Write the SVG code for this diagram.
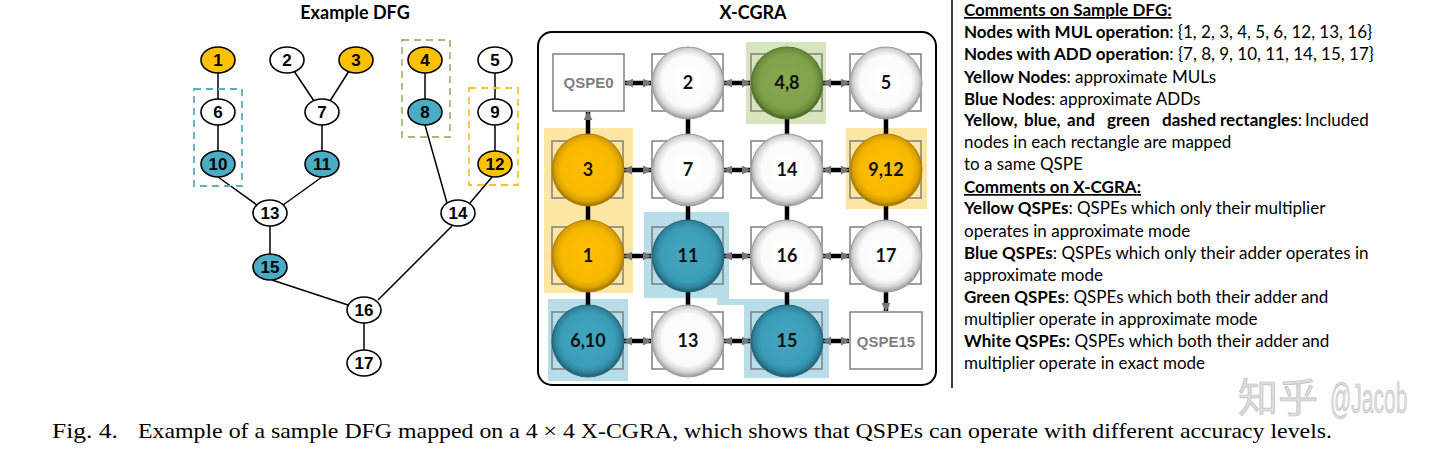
<svg xmlns="http://www.w3.org/2000/svg" width="1440" height="456" viewBox="0 0 1440 456">
<defs>
<style>
.t{font-family:"Lato","Open Sans","Liberation Sans",sans-serif;font-size:17px;fill:#000}
.b{font-weight:bold}
.title{font-family:"Lato","Open Sans","Liberation Sans",sans-serif;font-size:18px;font-weight:bold;text-anchor:middle}
.dn ellipse{stroke:#000;stroke-width:1.6}
.dl{font-family:"Liberation Sans",Arial,sans-serif;font-size:17px;font-weight:bold;text-anchor:middle;fill:#000}
.de{stroke:#000;stroke-width:1.5;fill:none}
.dash{fill:none;stroke-width:1.8;stroke-dasharray:7 5}
.sq{fill:none;stroke:#7f7f7f;stroke-width:1.5}
.cl{font-family:"Lato","Open Sans","Liberation Sans",sans-serif;font-size:18px;font-weight:bold;text-anchor:middle;fill:#111}
.qb{fill:#fff;stroke:#808080;stroke-width:1.5}
.ql{font-family:"Liberation Sans",Arial,sans-serif;font-size:15px;font-weight:bold;text-anchor:middle;fill:#7f7f7f}
.cn{stroke:#000;stroke-width:4.5;fill:none}
.y{fill:#FFC000}.bl{fill:#4BACC6}.w{fill:#fff}
</style>
<radialGradient id="gw" cx="50%" cy="48%" r="50%">
<stop offset="0" stop-color="#ffffff"/><stop offset="0.72" stop-color="#fbfbfb"/><stop offset="0.9" stop-color="#d6d6d6"/><stop offset="1" stop-color="#a8a8a8"/>
</radialGradient>
<radialGradient id="gy" cx="50%" cy="48%" r="50%">
<stop offset="0" stop-color="#FFC000"/><stop offset="0.75" stop-color="#F7B800"/><stop offset="0.92" stop-color="#D9A000"/><stop offset="1" stop-color="#A87C00"/>
</radialGradient>
<radialGradient id="gb" cx="50%" cy="48%" r="50%">
<stop offset="0" stop-color="#43A6C1"/><stop offset="0.75" stop-color="#3C9DB8"/><stop offset="0.92" stop-color="#2F839C"/><stop offset="1" stop-color="#22657A"/>
</radialGradient>
<radialGradient id="gg" cx="50%" cy="48%" r="50%">
<stop offset="0" stop-color="#86AA50"/><stop offset="0.75" stop-color="#7FA24A"/><stop offset="0.92" stop-color="#6B8C3C"/><stop offset="1" stop-color="#4F6B28"/>
</radialGradient>
<marker id="ah" viewBox="0 0 10 10" refX="9" refY="5" markerWidth="2" markerHeight="2" orient="auto-start-reverse">
<path d="M0,0 L10,5 L0,10 z" fill="#777"/>
</marker>
</defs>
<rect width="1440" height="456" fill="#fff"/>

<!-- ===== Example DFG ===== -->
<text class="title" x="355" y="19">Example DFG</text>
<g id="dfg-edges">
<line class="de" x1="218" y1="73" x2="218" y2="99"/>
<line class="de" x1="218" y1="125" x2="218" y2="151"/>
<line class="de" x1="294" y1="71" x2="314" y2="101"/>
<line class="de" x1="349" y1="71" x2="330" y2="101"/>
<line class="de" x1="322" y1="125" x2="322" y2="151"/>
<line class="de" x1="425" y1="73" x2="425" y2="99"/>
<line class="de" x1="495" y1="73" x2="495" y2="99"/>
<line class="de" x1="495" y1="125" x2="495" y2="151"/>
<line class="de" x1="218" y1="177" x2="257" y2="205"/>
<line class="de" x1="322" y1="177" x2="283" y2="205"/>
<line class="de" x1="425" y1="125" x2="447" y2="203"/>
<line class="de" x1="492" y1="177" x2="470" y2="203"/>
<line class="de" x1="270" y1="226" x2="270" y2="254"/>
<line class="de" x1="272" y1="280" x2="348" y2="305"/>
<line class="de" x1="452" y1="226" x2="378" y2="300"/>
<line class="de" x1="364" y1="323" x2="364" y2="350"/>
</g>
<g id="dfg-rects">
<rect class="dash" x="194" y="89" width="48" height="97" stroke="#5AAFC4"/>
<rect class="dash" x="402" y="40" width="48" height="97" stroke="#A6B87A"/>
<rect class="dash" x="469" y="88" width="49" height="97" stroke="#F2C230"/>
</g>
<g id="n1" class="dn"><ellipse cx="218" cy="60" rx="17" ry="13" class="y"/><text class="dl" x="218" y="66">1</text></g>
<g id="n2" class="dn"><ellipse cx="287" cy="60" rx="17" ry="13" class="w"/><text class="dl" x="287" y="66">2</text></g>
<g id="n3" class="dn"><ellipse cx="356" cy="60" rx="17" ry="13" class="y"/><text class="dl" x="356" y="66">3</text></g>
<g id="n4" class="dn"><ellipse cx="425" cy="60" rx="17" ry="13" class="y"/><text class="dl" x="425" y="66">4</text></g>
<g id="n5" class="dn"><ellipse cx="495" cy="60" rx="17" ry="13" class="w"/><text class="dl" x="495" y="66">5</text></g>
<g id="n6" class="dn"><ellipse cx="218" cy="112" rx="17" ry="13" class="w"/><text class="dl" x="218" y="118">6</text></g>
<g id="n7" class="dn"><ellipse cx="322" cy="112" rx="17" ry="13" class="w"/><text class="dl" x="322" y="118">7</text></g>
<g id="n8" class="dn"><ellipse cx="425" cy="112" rx="17" ry="13" class="bl"/><text class="dl" x="425" y="118">8</text></g>
<g id="n9" class="dn"><ellipse cx="495" cy="112" rx="17" ry="13" class="w"/><text class="dl" x="495" y="118">9</text></g>
<g id="n10" class="dn"><ellipse cx="218" cy="164" rx="17" ry="13" class="bl"/><text class="dl" x="218" y="170">10</text></g>
<g id="n11" class="dn"><ellipse cx="322" cy="164" rx="17" ry="13" class="bl"/><text class="dl" x="322" y="170">11</text></g>
<g id="n12" class="dn"><ellipse cx="495" cy="164" rx="17" ry="13" class="y"/><text class="dl" x="495" y="170">12</text></g>
<g id="n13" class="dn"><ellipse cx="270" cy="213" rx="17" ry="13" class="w"/><text class="dl" x="270" y="219">13</text></g>
<g id="n14" class="dn"><ellipse cx="458" cy="213" rx="17" ry="13" class="w"/><text class="dl" x="458" y="219">14</text></g>
<g id="n15" class="dn"><ellipse cx="270" cy="267" rx="17" ry="13" class="bl"/><text class="dl" x="270" y="273">15</text></g>
<g id="n16" class="dn"><ellipse cx="364" cy="310" rx="17" ry="13" class="w"/><text class="dl" x="364" y="316">16</text></g>
<g id="n17" class="dn"><ellipse cx="364" cy="363" rx="17" ry="13" class="w"/><text class="dl" x="364" y="369">17</text></g>

<!-- ===== X-CGRA ===== -->
<text class="title" x="753" y="19">X-CGRA</text>
<rect id="frame" x="538" y="32" width="398" height="353" rx="14" fill="#fff" stroke="#000" stroke-width="2"/>
<g id="highlights">
<rect x="746" y="42" width="80" height="82" fill="#D7E4BD"/>
<rect x="544" y="128" width="89" height="165" fill="#FDE6A4"/>
<rect x="846" y="128" width="81" height="81" fill="#FDE6A4"/>
<rect x="548" y="299" width="80" height="82" fill="#B7DDE8"/>
<polygon points="644,212 729,212 729,299 829,299 829,378 744,378 744,305 717,305 717,298 644,298" fill="#B7DDE8"/>
</g>
<g id="connectors">
<line class="cn" x1="625" y1="83" x2="651" y2="83" marker-start="url(#ah)" marker-end="url(#ah)"/>
<line class="cn" x1="724" y1="83" x2="750" y2="83" marker-start="url(#ah)" marker-end="url(#ah)"/>
<line class="cn" x1="823" y1="83" x2="849" y2="83" marker-start="url(#ah)" marker-end="url(#ah)"/>
<line class="cn" x1="624" y1="170" x2="651" y2="170" marker-start="url(#ah)" marker-end="url(#ah)"/>
<line class="cn" x1="724" y1="170" x2="750" y2="170" marker-start="url(#ah)" marker-end="url(#ah)"/>
<line class="cn" x1="823" y1="170" x2="849" y2="170" marker-start="url(#ah)" marker-end="url(#ah)"/>
<line class="cn" x1="624" y1="256" x2="651" y2="256" marker-start="url(#ah)" marker-end="url(#ah)"/>
<line class="cn" x1="724" y1="256" x2="750" y2="256" marker-start="url(#ah)" marker-end="url(#ah)"/>
<line class="cn" x1="823" y1="256" x2="849" y2="256" marker-start="url(#ah)" marker-end="url(#ah)"/>
<line class="cn" x1="624" y1="341" x2="651" y2="341" marker-start="url(#ah)" marker-end="url(#ah)"/>
<line class="cn" x1="724" y1="341" x2="750" y2="341" marker-start="url(#ah)" marker-end="url(#ah)"/>
<line class="cn" x1="823" y1="341" x2="849" y2="341" marker-start="url(#ah)" marker-end="url(#ah)"/>
<line class="cn" x1="588" y1="135" x2="588" y2="112" marker-end="url(#ah)"/>
<line class="cn" x1="688" y1="118" x2="688" y2="135"/>
<line class="cn" x1="787" y1="118" x2="787" y2="135"/>
<line class="cn" x1="886" y1="118" x2="886" y2="135"/>
<line class="cn" x1="588" y1="205" x2="588" y2="221"/>
<line class="cn" x1="688" y1="205" x2="688" y2="221"/>
<line class="cn" x1="787" y1="205" x2="787" y2="221"/>
<line class="cn" x1="886" y1="205" x2="886" y2="221"/>
<line class="cn" x1="588" y1="291" x2="588" y2="306"/>
<line class="cn" x1="688" y1="291" x2="688" y2="306"/>
<line class="cn" x1="787" y1="291" x2="787" y2="306"/>
<line class="cn" x1="886" y1="290" x2="886" y2="311" marker-end="url(#ah)"/>
</g>
<g id="qspe0"><rect class="qb" x="553" y="54" width="71" height="57"/><text class="ql" x="588.5" y="88">QSPE0</text></g>
<g id="pe2"><rect class="sq" x="652" y="54" width="71" height="57"/><circle cx="688" cy="83" r="36" fill="url(#gw)" stroke="#9a9a9a"/><text class="cl" x="688" y="89">2</text></g>
<g id="pe48"><rect class="sq" x="751" y="54" width="71" height="57"/><circle cx="787" cy="83" r="36" fill="url(#gg)" stroke="#5a7a30"/><text class="cl" x="787" y="89">4,8</text></g>
<g id="pe5"><rect class="sq" x="850" y="54" width="71" height="57"/><circle cx="886" cy="83" r="36" fill="url(#gw)" stroke="#9a9a9a"/><text class="cl" x="886" y="89">5</text></g>
<g id="pe3"><rect class="sq" x="552" y="141" width="71" height="57"/><circle cx="588" cy="170" r="36" fill="url(#gy)" stroke="#b08400"/><text class="cl" x="588" y="176">3</text></g>
<g id="pe7"><rect class="sq" x="652" y="141" width="71" height="57"/><circle cx="688" cy="170" r="36" fill="url(#gw)" stroke="#9a9a9a"/><text class="cl" x="688" y="176">7</text></g>
<g id="pe14"><rect class="sq" x="751" y="141" width="71" height="57"/><circle cx="787" cy="170" r="36" fill="url(#gw)" stroke="#9a9a9a"/><text class="cl" x="787" y="176">14</text></g>
<g id="pe912"><rect class="sq" x="850" y="141" width="71" height="57"/><circle cx="886" cy="170" r="36" fill="url(#gy)" stroke="#b08400"/><text class="cl" x="886" y="176">9,12</text></g>
<g id="pe1"><rect class="sq" x="552" y="227" width="71" height="57"/><circle cx="588" cy="256" r="36" fill="url(#gy)" stroke="#b08400"/><text class="cl" x="588" y="262">1</text></g>
<g id="pe11"><rect class="sq" x="652" y="227" width="71" height="57"/><circle cx="688" cy="256" r="36" fill="url(#gb)" stroke="#22657a"/><text class="cl" x="688" y="262">11</text></g>
<g id="pe16"><rect class="sq" x="751" y="227" width="71" height="57"/><circle cx="787" cy="256" r="36" fill="url(#gw)" stroke="#9a9a9a"/><text class="cl" x="787" y="262">16</text></g>
<g id="pe17"><rect class="sq" x="850" y="227" width="71" height="57"/><circle cx="886" cy="256" r="36" fill="url(#gw)" stroke="#9a9a9a"/><text class="cl" x="886" y="262">17</text></g>
<g id="pe610"><rect class="sq" x="552" y="312" width="71" height="57"/><circle cx="588" cy="341" r="36" fill="url(#gb)" stroke="#22657a"/><text class="cl" x="588" y="347">6,10</text></g>
<g id="pe13"><rect class="sq" x="652" y="312" width="71" height="57"/><circle cx="688" cy="341" r="36" fill="url(#gw)" stroke="#9a9a9a"/><text class="cl" x="688" y="347">13</text></g>
<g id="pe15"><rect class="sq" x="751" y="312" width="71" height="57"/><circle cx="787" cy="341" r="36" fill="url(#gb)" stroke="#22657a"/><text class="cl" x="787" y="347">15</text></g>
<g id="qspe15"><rect class="qb" x="850" y="312" width="72" height="57"/><text class="ql" x="886" y="346.5">QSPE15</text></g>

<!-- divider -->
<line x1="952" y1="0" x2="952" y2="388" stroke="#000" stroke-width="1.5"/>

<!-- ===== Comments ===== -->
<g id="comments">
<text class="t b" x="964" y="16" text-decoration="underline">Comments on Sample DFG<tspan text-decoration="none">:</tspan></text>
<text class="t" x="964" y="38"><tspan class="b">Nodes with MUL operation</tspan>: {1, 2, 3, 4, 5, 6, 12, 13, 16}</text>
<text class="t" x="964" y="60"><tspan class="b">Nodes with ADD operation</tspan>: {7, 8, 9, 10, 11, 14, 15, 17}</text>
<text class="t" x="964" y="83"><tspan class="b">Yellow Nodes</tspan>: approximate MULs</text>
<text class="t" x="964" y="105"><tspan class="b">Blue Nodes</tspan>: approximate ADDs</text>
<text class="t" y="126"><tspan class="b" x="964">Yellow,</tspan><tspan class="b" x="1024">blue,</tspan><tspan class="b" x="1067">and</tspan><tspan class="b" x="1107">green</tspan><tspan class="b" x="1162">dashed</tspan><tspan class="b" x="1220">rectangles</tspan>:<tspan x="1305">Included</tspan></text>
<text class="t" x="964" y="148">nodes in each rectangle are mapped</text>
<text class="t" x="964" y="170">to a same QSPE</text>
<text class="t b" x="964" y="193" text-decoration="underline">Comments on X-CGRA<tspan text-decoration="none">:</tspan></text>
<text class="t" x="964" y="214"><tspan class="b">Yellow QSPEs</tspan>: QSPEs which only their multiplier</text>
<text class="t" x="964" y="237">operates in approximate mode</text>
<text class="t" x="964" y="259"><tspan class="b">Blue QSPEs</tspan>: QSPEs which only their adder operates in</text>
<text class="t" x="964" y="281">approximate mode</text>
<text class="t" x="964" y="303"><tspan class="b">Green QSPEs</tspan>: QSPEs which both their adder and</text>
<text class="t" x="964" y="325">multiplier operate in approximate mode</text>
<text class="t" x="964" y="347"><tspan class="b">White QSPEs:</tspan> QSPEs which both their adder and</text>
<text class="t" x="964" y="369">multiplier operate in exact mode</text>
</g>

<!-- watermark -->
<g id="watermark" fill="#dedede" stroke="#bdbdbd" stroke-width="0.7">
<text x="1238" y="412" font-family="'Noto Sans CJK SC',sans-serif" font-size="40">知乎</text>
<text transform="translate(1330,413) scale(0.5,1)" font-family="'Liberation Sans',sans-serif" font-size="42">@Jacob</text>
</g>

<!-- caption -->
<g id="caption" font-family="'Liberation Serif','Times New Roman',serif" font-size="22" fill="#000">
<text x="52" y="438" textLength="66" lengthAdjust="spacingAndGlyphs">Fig. 4.</text>
<text x="138" y="438" textLength="1194" lengthAdjust="spacingAndGlyphs">Example of a sample DFG mapped on a 4 × 4 X-CGRA, which shows that QSPEs can operate with different accuracy levels.</text>
</g>
</svg>
